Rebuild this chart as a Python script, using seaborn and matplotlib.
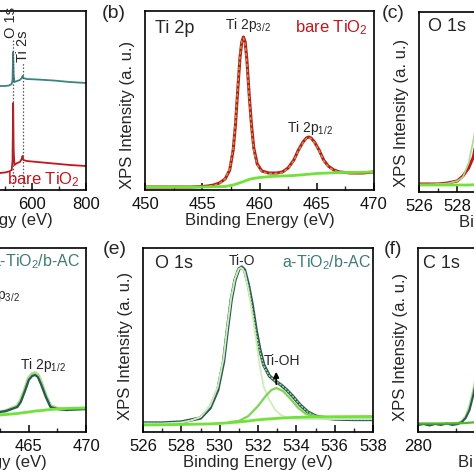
import seaborn as sns
import matplotlib
matplotlib.use("Agg")
import matplotlib.pyplot as plt
from matplotlib.ticker import MultipleLocator

sns.set_theme(style="ticks")
plt.rcParams['font.family'] = ['Liberation Sans', 'DejaVu Sans']
plt.rcParams['mathtext.fontset'] = 'custom'
plt.rcParams['mathtext.rm'] = 'Liberation Sans'
plt.rcParams['mathtext.default'] = 'regular'

# ---------------- data (binding energy in eV, intensity in a.u.) ----------------
# (a) survey
survey_e = [0, 100, 200, 285, 300, 400, 459, 470, 480, 500, 515, 525, 528, 530, 532, 535,
            545, 555, 562, 565, 568, 580, 620, 680, 740, 800]
survey_tio2_bac = [60, 70, 80, 98, 88, 90, 118, 96, 104, 104, 104.5, 106, 110, 138, 115, 108,
                   109, 110, 112, 114, 112, 111, 110.5, 109.5, 108, 107]
survey_tio2 = [-30, -22, -15, 5, -5, 0, 30, 10, 17, 17.5, 18.5, 20, 30, 87, 40, 25,
               27, 28, 31, 34, 30, 29, 28, 26.5, 25, 24]

# (b) Ti 2p, bare TiO2
ti_e_b = [450, 452, 454, 455, 455.5, 456, 456.5, 457, 457.4, 457.7, 457.9, 458.1, 458.3, 458.45,
          458.6, 458.75, 458.9, 459.1, 459.3, 459.5, 459.8, 460.2, 460.8, 461.5, 462, 462.5, 463,
          463.4, 463.8, 464.1, 464.3, 464.5, 464.8, 465.2, 465.6, 466, 466.5, 467, 468, 469, 470]
ti_raw_b = [3, 3, 3, 3.5, 4, 5, 7, 11, 20, 40, 65, 100, 133, 148,
            153, 148, 130, 95, 65, 42, 26, 19, 17, 17, 18, 22, 30,
            40, 48, 52, 53, 52, 48, 40, 30, 24, 20, 18, 17, 17, 18]
ti_fit_b = [3, 3, 3, 3.2, 3.6, 4.5, 6.5, 11, 21, 42, 68, 103, 135, 149,
            152, 146, 127, 92, 62, 40, 25, 18, 16.5, 16.5, 17.5, 21.5, 29.5,
            39.5, 47.5, 51.5, 52.5, 51.5, 47.5, 39.5, 29.5, 23.5, 19.5, 18, 17.5, 17.5, 18]
ti_bg_e_b = [450, 455, 457, 457.7, 458.5, 459.2, 460, 461, 462, 463, 464, 465, 466, 467, 468, 470]
ti_bg_b = [3, 3, 3.5, 5, 8, 11, 12.5, 13.5, 14, 14.5, 15.5, 16.5, 17, 17.5, 17.5, 18]

# (c) O 1s, bare TiO2
o_e_c = [526, 526.5, 527, 527.5, 528, 528.3, 528.6, 528.85, 529.1, 529.3, 529.5, 529.7, 529.85,
         530, 530.3, 530.6, 531, 531.5, 532, 533, 534, 536, 538]
o_raw_c = [8, 8, 8, 9, 11, 16, 24, 35, 60, 100, 140, 165, 170,
           165, 130, 90, 50, 30, 24, 18, 14, 12, 12]
o_fit_c = [7.5, 7.5, 8, 8.5, 11, 15, 29, 52, 80, 115, 150, 168, 170,
           163, 125, 85, 46, 27, 22, 17, 13.5, 12, 12]
o_bg_c = [7, 7, 7, 7, 7, 7, 7, 7.2, 7.5, 8, 8.5, 9, 9.5,
          10, 10.5, 11, 11.5, 12, 12, 12, 12, 12, 12]

# (d) Ti 2p, a-TiO2/b-AC
ti_e_d = [450, 455, 457, 458, 458.6, 459, 459.3, 459.6, 459.9, 460.2, 460.6, 461, 462, 462.5,
          463, 463.5, 464, 464.3, 464.7, 465, 465.3, 465.55, 465.8, 466.1, 466.5, 466.9, 467.5,
          468.3, 469, 470]
ti_raw_d = [6, 7, 12, 40, 90, 120, 128, 127, 110, 75, 45, 30, 21, 20,
            21, 23, 25, 30, 42, 52, 56, 57, 55, 47, 35, 25, 23,
            22, 22.5, 23]
ti_fit_d = [6, 7, 12, 42, 92, 122, 130, 129, 112, 77, 46, 30, 21, 20,
            21, 23.5, 26, 31.5, 44, 54, 58, 59, 57, 49, 36, 26, 23.5,
            22.5, 23, 23.5]
ti_bg_d = [6, 6, 7, 9, 11, 13, 14, 14.5, 15, 15.5, 16, 16.5, 17, 17,
           17.5, 18, 18.5, 19, 19.5, 20, 20.5, 21, 21.2, 21.5, 22, 22.5, 23,
           23.5, 23.8, 24]

# (e) O 1s, a-TiO2/b-AC
o_e_e = [526, 527, 528, 528.5, 529, 529.5, 529.9, 530.2, 530.4, 530.6, 530.8, 531, 531.15,
         531.3, 531.5, 531.7, 531.9, 532.1, 532.3, 532.6, 532.9, 533.2, 533.5, 533.8, 534.2,
         534.6, 535, 535.5, 536, 537, 538]
o_raw_e = [9, 9, 10, 12, 14, 24, 42, 70, 102, 132, 152, 163, 165,
           162, 147, 127, 102, 82, 67, 56, 51, 47, 42, 36, 27,
           20, 16, 14, 13, 12.5, 12.5]
o_fit_e = [8.5, 8.5, 9.5, 11.5, 15, 27, 46, 75, 107, 136, 155, 164, 165,
           161, 145, 124, 99, 80, 66, 56, 51, 47, 42, 36, 27,
           20, 16, 14, 13, 12.5, 12.5]
o_tio_e = [8.5, 8.5, 9.5, 11.5, 15, 26, 45, 73, 105, 134, 153, 163, 164,
           160, 142, 118, 92, 65, 45, 32, 22, 17, 14.5, 13.5, 13,
           13, 13, 13, 13, 13, 13]
o_bg_e = [7, 7.2, 7.5, 7.7, 7.9, 8.1, 8.5, 8.8, 9.1, 9.4, 9.7, 10, 10.3,
          10.6, 11, 11.5, 12, 12.3, 12.7, 13.1, 13.5, 13.9, 14.2, 14.5, 14.8,
          15, 15.1, 15.2, 15.3, 15.4, 15.5]
o_tioh_x = [530.5, 531, 531.5, 532, 532.4, 532.7, 532.95, 533.3, 533.7, 534.1, 534.5, 535, 535.5]
o_tioh = [10, 11, 16, 26, 36, 42, 44, 41, 33, 24, 18, 15.5, 15.2]

# (f) C 1s, a-TiO2/b-AC
c_e_f = [280, 280.3, 280.6, 280.9, 281.2, 281.5, 281.8, 282.1, 282.3, 282.5, 282.7, 282.9, 283.2,
         283.6, 284, 284.4, 284.7, 285, 285.4, 286, 287, 288, 289, 290, 292]
c_raw_f = [7, 8, 6.5, 8, 7, 8.5, 7, 8, 10, 14, 22, 37, 65,
           105, 140, 162, 166, 155, 115, 60, 30, 20, 16, 14, 13]
c_fit_f = [8, 8, 8, 8, 8, 8.2, 8.5, 9, 11, 16, 26, 42, 72,
           110, 144, 163, 165, 152, 110, 58, 28, 19, 15.5, 14, 13]
c_bg_f = [8.5, 8.5, 8.5, 8.5, 8.5, 8.5, 8.6, 8.7, 8.8, 9, 9.3, 9.6, 10,
          10.5, 11, 11.5, 12, 12.3, 12.6, 13, 13, 13, 13, 13, 13]

# ---------------- colours ----------------
red_raw = "#c3161c"
teal_raw = "#2b5855"
teal_survey = "#3d8380"
teal_text = "#3f7a77"
lime_bg = "#70e23a"
olive_fit = "#9aab45"
env_green = "#a6dd86"
pale_comp = "#cdeebb"
mid_comp = "#7ed455"

W = 474.0


def box(x0, y0, x1, y1):
    # pixel box -> figure fraction
    return [x0 / W, 1 - y1 / W, (x1 - x0) / W, (y1 - y0) / W]


fig = plt.figure(figsize=(4.74, 4.74), dpi=100)
fig.patch.set_facecolor("white")

ax_a = fig.add_axes(box(-130, 11, 86, 190))
ax_b = fig.add_axes(box(145, 11, 374, 190))
ax_c = fig.add_axes(box(419, 12, 648, 192))
ax_d = fig.add_axes(box(-143, 248, 86, 432))
ax_e = fig.add_axes(box(143, 248, 373, 432))
ax_f = fig.add_axes(box(418, 248, 647, 432))


def style(ax, xlim, major, minor, ylim, ylab_y=0.44):
    ax.set_xlim(*xlim)
    ax.set_ylim(*ylim)
    ax.xaxis.set_major_locator(MultipleLocator(major))
    ax.xaxis.set_minor_locator(MultipleLocator(minor))
    ax.set_yticks([])
    ax.tick_params(axis='x', which='major', direction='in', length=5, width=1.1,
                   labelsize=12, pad=5, colors='black')
    ax.tick_params(axis='x', which='minor', direction='in', length=3, width=1.0)
    ax.tick_params(axis='x', labelcolor='#111111')
    for s in ax.spines.values():
        s.set_visible(True)
        s.set_color('black')
        s.set_linewidth(1.2)
    ax.set_facecolor('white')
    ax.set_xlabel("Binding Energy (eV)", fontsize=12, labelpad=1)
    ax.set_ylabel("XPS Intensity (a. u.)", fontsize=12)
    ax.yaxis.set_label_coords(-0.045, ylab_y)


# (a) survey
sns.lineplot(x=survey_e, y=survey_tio2_bac, ax=ax_a, color=teal_survey, lw=1.3, sort=False)
sns.lineplot(x=survey_e, y=survey_tio2, ax=ax_a, color=red_raw, lw=1.3, sort=False)
style(ax_a, (0, 800), 200, 100, (0, 179))
ax_a.vlines([530, 565], 0, [152, 128], colors='#555555', linestyles=(0, (1.2, 1.5)), lw=0.9)
ax_a.text(522, 152, "O 1s", rotation=90, ha='center', va='bottom', fontsize=10.5)
ax_a.text(568, 128, "Ti 2s", rotation=90, ha='center', va='bottom', fontsize=10.5)
ax_a.text(0.97, 0.06, "bare TiO$_2$", color=red_raw, fontsize=12, ha='right', va='center',
          transform=ax_a.transAxes)

# (b) Ti 2p bare TiO2
sns.lineplot(x=ti_e_b, y=ti_raw_b, ax=ax_b, color=red_raw, lw=2.2)
sns.lineplot(x=ti_e_b, y=ti_fit_b, ax=ax_b, color=olive_fit, lw=1.1, linestyle=(0, (2, 1.5)))
sns.lineplot(x=ti_bg_e_b, y=ti_bg_b, ax=ax_b, color=lime_bg, lw=2.0)
style(ax_b, (450, 470), 5, 2.5, (0, 179), 0.42)
ax_b.text(0.044, 0.905, "Ti 2p", fontsize=13, ha='left', va='center', transform=ax_b.transAxes)
ax_b.text(0.975, 0.905, "bare TiO$_2$", color=red_raw, fontsize=12, ha='right', va='center',
          transform=ax_b.transAxes)
ax_b.text(459.0, 165, "Ti 2p$_{3/2}$", fontsize=10, ha='center', va='center')
ax_b.text(464.4, 62, "Ti 2p$_{1/2}$", fontsize=10, ha='center', va='center')

# (c) O 1s bare TiO2
sns.lineplot(x=o_e_c, y=o_raw_c, ax=ax_c, color=red_raw, lw=2.2)
sns.lineplot(x=o_e_c, y=o_fit_c, ax=ax_c, color=env_green, lw=1.2)
sns.lineplot(x=o_e_c, y=o_bg_c, ax=ax_c, color=lime_bg, lw=2.0)
style(ax_c, (526, 538), 2, 1, (0, 180))
ax_c.text(0.04, 0.917, "O 1s", fontsize=13, ha='left', va='center', transform=ax_c.transAxes)

# (d) Ti 2p a-TiO2/b-AC
sns.lineplot(x=ti_e_d, y=ti_fit_d, ax=ax_d, color=env_green, lw=2.6)
sns.lineplot(x=ti_e_d, y=ti_raw_d, ax=ax_d, color=teal_raw, lw=1.6)
sns.lineplot(x=ti_e_d, y=ti_bg_d, ax=ax_d, color=lime_bg, lw=2.0)
style(ax_d, (450, 470), 5, 2.5, (0, 184), 0.47)
ax_d.text(0.975, 0.924, "a-TiO$_2$/b-AC", color=teal_text, fontsize=11.5, ha='right', va='center',
          transform=ax_d.transAxes)
ax_d.text(464.2, 137, "Ti 2p$_{3/2}$", fontsize=10, ha='right', va='center')
ax_d.text(466.2, 67, "Ti 2p$_{1/2}$", fontsize=10, ha='center', va='center')

# (e) O 1s a-TiO2/b-AC
sns.lineplot(x=o_e_e, y=o_raw_e, ax=ax_e, color=teal_raw, lw=2.4)
sns.lineplot(x=o_e_e, y=o_fit_e, ax=ax_e, color=env_green, lw=1.0, linestyle=(0, (1.5, 1)))
sns.lineplot(x=o_e_e, y=o_tio_e, ax=ax_e, color=pale_comp, lw=1.3)
sns.lineplot(x=o_tioh_x, y=o_tioh, ax=ax_e, color=mid_comp, lw=1.6)
sns.lineplot(x=o_e_e, y=o_bg_e, ax=ax_e, color=lime_bg, lw=2.0)
style(ax_e, (526, 538), 2, 1, (0, 184), 0.47)
ax_e.text(0.052, 0.918, "O 1s", fontsize=13, ha='left', va='center', transform=ax_e.transAxes)
ax_e.text(0.99, 0.918, "a-TiO$_2$/b-AC", color=teal_text, fontsize=11.5, ha='right', va='center',
          transform=ax_e.transAxes)
ax_e.text(531.15, 171, "Ti-O", fontsize=10, ha='center', va='center')
ax_e.text(533.25, 71, "Ti-OH", fontsize=10, ha='center', va='center')
ax_e.annotate("", xy=(532.95, 63), xytext=(532.95, 45),
              arrowprops=dict(arrowstyle='-|>', color='black', lw=1.2, mutation_scale=8))

# (f) C 1s a-TiO2/b-AC
sns.lineplot(x=c_e_f, y=c_fit_f, ax=ax_f, color=env_green, lw=1.6)
sns.lineplot(x=c_e_f, y=c_raw_f, ax=ax_f, color=teal_raw, lw=1.5)
sns.lineplot(x=c_e_f, y=c_bg_f, ax=ax_f, color="#4fb82a", lw=1.6)
style(ax_f, (280, 292), 4, 2, (0, 184), 0.46)
ax_f.text(0.022, 0.918, "C 1s", fontsize=13, ha='left', va='center', transform=ax_f.transAxes)

# panel letters
for lab, px, py in [("(b)", 114, 14), ("(c)", 393, 14), ("(e)", 115, 250), ("(f)", 393, 250)]:
    fig.text(px / W, 1 - py / W, lab, fontsize=14, ha='center', va='center')

plt.savefig("out.png", dpi=100)
